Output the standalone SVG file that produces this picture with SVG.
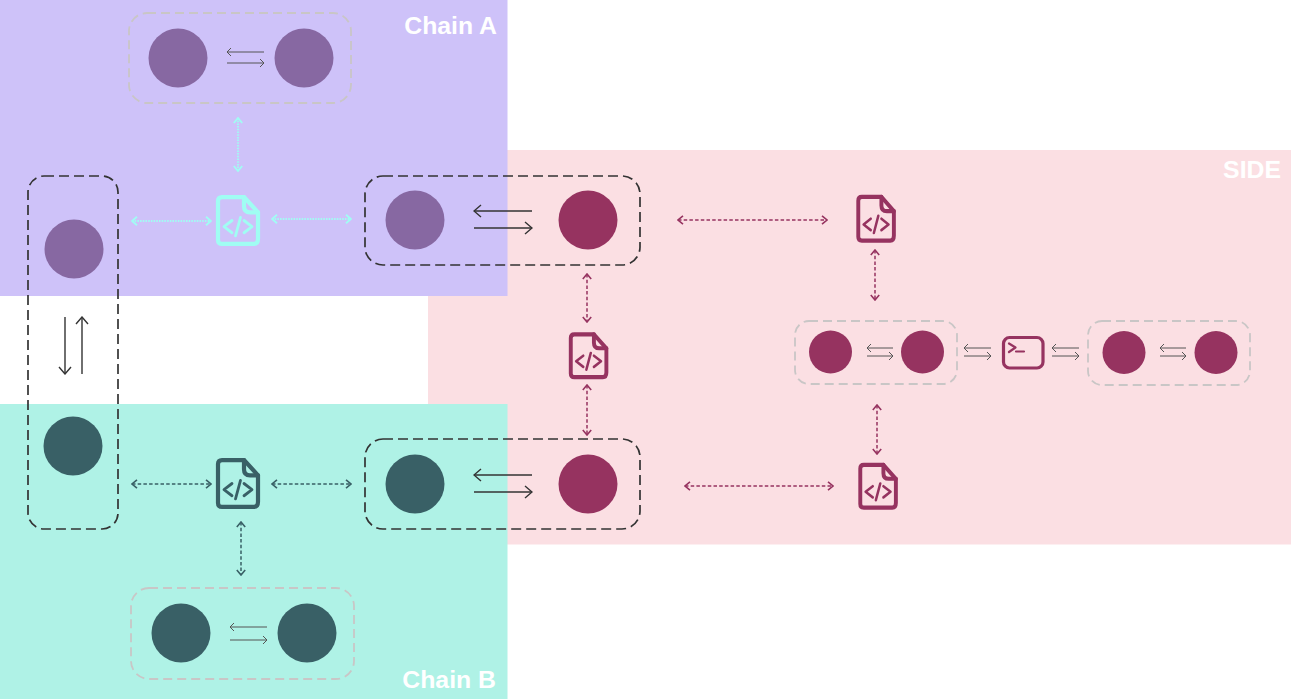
<svg xmlns="http://www.w3.org/2000/svg" width="1292" height="700" viewBox="0 0 1292 700">
<style>
text{font-family:"Liberation Sans",Arial,sans-serif;font-weight:700;font-size:24.800px;fill:#fff;text-anchor:end}
.g{fill:none;stroke:#c9c6c6;stroke-width:1.8;stroke-dasharray:9 5}
.k{fill:none;stroke:#333;stroke-width:1.7;stroke-dasharray:10 5}
.p{fill:#8768a2}.t{fill:#396066}.m{fill:#963360}
.i{fill:none;stroke-linecap:round;stroke-linejoin:round}
.ip{stroke:#963360}.it{stroke:#396066}.ic{stroke:#a0fdf3}
.c{fill:none;stroke-width:1.500}
.cc{stroke:#a0fdf3;stroke-dasharray:1.500 1.200;stroke-width:1.800}.ct{stroke:#396066;stroke-dasharray:3.500 2.200}.cm{stroke:#963360;stroke-dasharray:3.500 2.200}
.a{fill:none;stroke:#555;stroke-width:1}.b{fill:none;stroke:#333;stroke-width:1.400}
.code{stroke-width:2.800}
</style>
<defs>
<marker id="mc" viewBox="-7 -5 8 10" markerUnits="userSpaceOnUse" markerWidth="8" markerHeight="10" orient="auto-start-reverse" refX="0" refY="0"><path d="M-5-4.200L0 0l-5 4.200" fill="none" stroke="#a0fdf3" stroke-width="1.800"/></marker>
<marker id="mt" viewBox="-7 -5 8 10" markerUnits="userSpaceOnUse" markerWidth="8" markerHeight="10" orient="auto-start-reverse" refX="0" refY="0"><path d="M-5-4.200L0 0l-5 4.200" fill="none" stroke="#396066" stroke-width="1.600"/></marker>
<marker id="mm" viewBox="-7 -5 8 10" markerUnits="userSpaceOnUse" markerWidth="8" markerHeight="10" orient="auto-start-reverse" refX="0" refY="0"><path d="M-5-4.200L0 0l-5 4.200" fill="none" stroke="#963360" stroke-width="1.600"/></marker>
<marker id="ma" viewBox="-6 -5 7 10" markerUnits="userSpaceOnUse" markerWidth="7" markerHeight="10" orient="auto" refX="0" refY="0"><path d="M-4-4L0 0l-4 4" fill="none" stroke="#555" stroke-width="1"/></marker>
<marker id="mb" viewBox="-9 -7 10 14" markerUnits="userSpaceOnUse" markerWidth="10" markerHeight="14" orient="auto" refX="0" refY="0"><path d="M-7-6L0 0l-7 6" fill="none" stroke="#333" stroke-width="1.400"/></marker>
<g id="file"><path d="M6 2H28L42 17V43Q42 48 38 48H6Q2 48 2 44V6Q2 2 6 2Z"/><path d="M28 2V11Q28 17 34 17H42"/><path class="code" d="M16 25L8 31l8 6M28 25l8 6-8 6M24.500 22L19.500 40"/></g>
</defs>
<rect x="428" y="150" width="863" height="394.500" fill="#fbdfe3"/>
<rect x="0" y="0" width="507.500" height="296" fill="#cec2f9"/>
<rect x="0" y="404" width="507.500" height="295" fill="#aff2e6"/>
<text x="497" y="34">Chain A</text>
<text x="1281" y="178">SIDE</text>
<text x="496" y="688">Chain B</text>
<g id="connectors">
<path class="c cc" marker-start="url(#mc)" marker-end="url(#mc)" d="M238 118V171"/>
<path class="c cc" marker-start="url(#mc)" marker-end="url(#mc)" d="M132 221H211"/>
<path class="c cc" marker-start="url(#mc)" marker-end="url(#mc)" d="M272 219H351"/>
<path class="c ct" marker-start="url(#mt)" marker-end="url(#mt)" d="M132 484H211"/>
<path class="c ct" marker-start="url(#mt)" marker-end="url(#mt)" d="M272 484H351"/>
<path class="c ct" marker-start="url(#mt)" marker-end="url(#mt)" d="M241 522V575"/>
<path class="c cm" marker-start="url(#mm)" marker-end="url(#mm)" d="M678 220H827"/>
<path class="c cm" marker-start="url(#mm)" marker-end="url(#mm)" d="M875 250V300"/>
<path class="c cm" marker-start="url(#mm)" marker-end="url(#mm)" d="M587 274V322"/>
<path class="c cm" marker-start="url(#mm)" marker-end="url(#mm)" d="M587 385V435"/>
<path class="c cm" marker-start="url(#mm)" marker-end="url(#mm)" d="M877 405V454"/>
<path class="c cm" marker-start="url(#mm)" marker-end="url(#mm)" d="M685 486H833"/>
<path class="b" marker-end="url(#mb)" d="M532 211H474"/><path class="b" marker-end="url(#mb)" d="M474 228H532"/>
<path class="b" marker-end="url(#mb)" d="M532 475H474"/><path class="b" marker-end="url(#mb)" d="M474 492H532"/>
<path class="b" marker-end="url(#mb)" d="M65 317V374"/><path class="b" marker-end="url(#mb)" d="M82 374V317"/>
<path class="a" marker-end="url(#ma)" d="M264 52H227"/><path class="a" marker-end="url(#ma)" d="M227 63H264"/>
<path class="a" marker-end="url(#ma)" d="M267 627H230"/><path class="a" marker-end="url(#ma)" d="M230 640H267"/>
<path class="a" marker-end="url(#ma)" d="M893 348H867"/><path class="a" marker-end="url(#ma)" d="M867 356H893"/>
<path class="a" marker-end="url(#ma)" d="M991 348H964"/><path class="a" marker-end="url(#ma)" d="M964 356H991"/>
<path class="a" marker-end="url(#ma)" d="M1079 348H1052"/><path class="a" marker-end="url(#ma)" d="M1052 356H1079"/>
<path class="a" marker-end="url(#ma)" d="M1186 348H1160"/><path class="a" marker-end="url(#ma)" d="M1160 356H1186"/>
</g>
<g id="group-a-top"><rect class="g" x="129" y="13" width="222" height="90" rx="18"/><circle class="p" cx="178" cy="58" r="29.500"/><circle class="p" cx="304" cy="58" r="29.500"/></g>
<g id="group-b-bottom"><rect class="g" x="131" y="588" width="223" height="91" rx="18"/><circle class="t" cx="181" cy="633" r="29.500"/><circle class="t" cx="307" cy="633" r="29.500"/></g>
<g id="group-bridge"><rect class="k" x="28" y="176" width="90" height="353" rx="16"/><circle class="p" cx="74" cy="249" r="29.500"/><circle class="t" cx="73" cy="446" r="29.500"/></g>
<g id="group-ab-top"><rect class="k" x="365" y="176" width="275" height="89" rx="18"/><circle class="p" cx="415" cy="220" r="29.500"/><circle class="m" cx="588" cy="220" r="29.500"/></g>
<g id="group-ab-bottom"><rect class="k" x="365" y="439" width="275" height="90" rx="18"/><circle class="t" cx="415" cy="484" r="29.500"/><circle class="m" cx="588" cy="484" r="29.500"/></g>
<g id="group-side-left"><rect class="g" x="795" y="321" width="162" height="63" rx="14"/><circle class="m" cx="830.500" cy="352" r="21.500"/><circle class="m" cx="922.500" cy="352" r="21.500"/></g>
<g id="group-side-right"><rect class="g" x="1088" y="321" width="162" height="64" rx="14"/><circle class="m" cx="1124" cy="352.500" r="21.500"/><circle class="m" cx="1216" cy="352.500" r="21.500"/></g>
<g id="file-a"><use href="#file" class="i ic" stroke-width="4.200" transform="translate(216 195) scale(1 1.020)"/></g>
<g id="file-b"><use href="#file" class="i it" stroke-width="4.200" transform="translate(216 458) scale(1 1.020)"/></g>
<g id="file-mid"><use href="#file" class="i ip" stroke-width="4.400" transform="translate(569 332.500) scale(.89 .93)"/></g>
<g id="file-side-top"><use href="#file" class="i ip" stroke-width="4.400" transform="translate(856.500 195) scale(.89 .95)"/></g>
<g id="file-side-bottom"><use href="#file" class="i ip" stroke-width="4.400" transform="translate(858.500 463) scale(.89 .93)"/></g>
<g id="terminal" class="i ip" stroke-width="3.200"><rect x="1003.500" y="337.500" width="39.500" height="30.500" rx="6"/><path d="M1009 343.500l6.500 4-6.500 4.500M1016 351.500h8" stroke-width="2.200"/></g>
</svg>
